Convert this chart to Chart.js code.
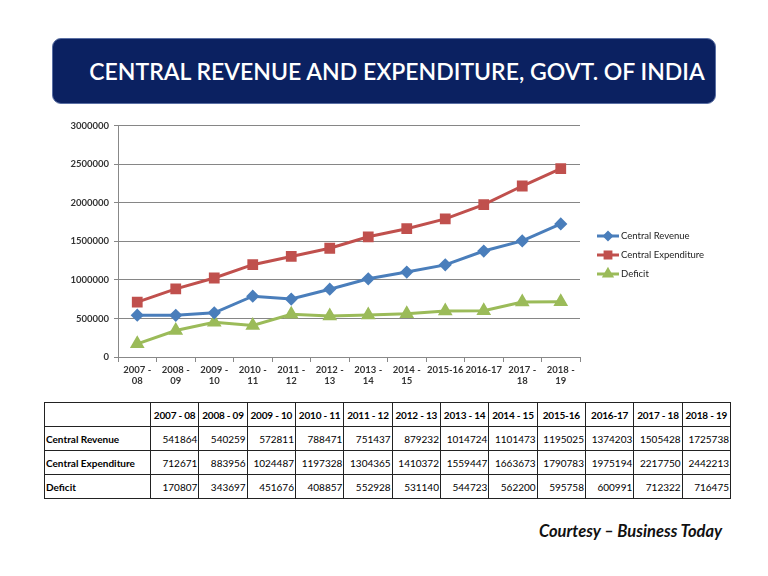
<!DOCTYPE html>
<html>
<head>
<meta charset="utf-8">
<script src="https://cdn.jsdelivr.net/npm/chart.js@4.4.1/dist/chart.umd.min.js"></script>
<style>
  body { margin: 0; width: 768px; height: 576px; background: #fff; position: relative; overflow: hidden; font-family: Lato, "Open Sans", sans-serif; }
  #title { position: absolute; left: 52px; top: 38px; width: 664px; height: 66px; background: #0b2161; border-radius: 9px; border: 1px solid #5a6fa3; box-sizing: border-box; padding-left: 26px; color: #fff; font-size: 23px; line-height: 64px; text-align: center; font-weight: 600; }
  #wrap { position: absolute; left: 60px; top: 115px; width: 680px; height: 280px; }
  table { position: absolute; left: 44px; top: 402px; width: 687px; border-collapse: collapse; table-layout: fixed; font-size: 10px; color: #000; }
  td, th { border: 1px solid #222; height: 23px; padding: 0 1px; overflow: hidden; white-space: nowrap; }
  th { font-weight: bold; text-align: center; font-size: 10px; letter-spacing: -0.2px; }
  td { text-align: right; }
  .lab { text-align: left; font-weight: bold; padding-left: 1px; width: 103px; }
  #courtesy { position: absolute; left: 539px; top: 521px; font-size: 16.5px; font-weight: bold; font-style: italic; color: #111; }
</style>
</head>
<body>
<div id="title">CENTRAL REVENUE AND EXPENDITURE, GOVT. OF INDIA</div>
<div id="wrap"><canvas id="myChart" width="680" height="280"></canvas></div>
<table id="tbl"></table>
<div id="courtesy">Courtesy – Business Today</div>
<script>
const years = ['2007 - 08', '2008 - 09', '2009 - 10', '2010 - 11', '2011 - 12', '2012 - 13',
  '2013 - 14', '2014 - 15', '2015-16', '2016-17', '2017 - 18', '2018 - 19'];
const revenue = [541864, 540259, 572811, 788471, 751437, 879232, 1014724, 1101473, 1195025, 1374203, 1505428, 1725738];
const expenditure = [712671, 883956, 1024487, 1197328, 1304365, 1410372, 1559447, 1663673, 1790783, 1975194, 2217750, 2442213];
const deficit = [170807, 343697, 451676, 408857, 552928, 531140, 544723, 562200, 595758, 600991, 712322, 716475];
const yTicks = [0, 500000, 1000000, 1500000, 2000000, 2500000, 3000000];

let revenueData = {
  label: 'Central Revenue',
  data: revenue,
  borderColor: '#4a7ebb',
  backgroundColor: '#4a7ebb',
  borderWidth: 3,
  pointStyle: 'rectRot',
  pointRadius: 4.5,
};
let expenditureData = {
  label: 'Central Expenditure',
  data: expenditure,
  borderColor: '#c0504d',
  backgroundColor: '#c0504d',
  borderWidth: 3,
  pointStyle: 'rect',
  pointRadius: 5.5,
};
let deficitData = {
  label: 'Deficit',
  data: deficit,
  borderColor: '#9bbb59',
  backgroundColor: '#9bbb59',
  borderWidth: 3,
  pointStyle: 'triangle',
  pointRadius: 5.5,
};

// legend with line + marker, like the office chart
const sideLegend = {
  id: 'sideLegend',
  afterDraw(chart) {
    const ctx = chart.ctx;
    const x0 = 537, y0 = 121;
    ctx.save();
    ctx.font = '9.5px Lato, sans-serif';
    ctx.textBaseline = 'middle';
    chart.data.datasets.forEach((ds, i) => {
      const y = y0 + i * 19;
      ctx.strokeStyle = ds.borderColor;
      ctx.lineWidth = 3;
      ctx.beginPath();
      ctx.moveTo(x0, y);
      ctx.lineTo(x0 + 22, y);
      ctx.stroke();
      Chart.helpers.drawPoint(ctx, {pointStyle: ds.pointStyle, radius: ds.pointRadius * 0.75, borderWidth: 1}, x0 + 11, y);
      ctx.fillStyle = ds.backgroundColor;
      ctx.fill();
      ctx.fillStyle = '#222';
      ctx.fillText(ds.label, x0 + 24, y);
    });
    ctx.restore();
  }
};

const tickFont = { family: 'Lato, sans-serif', size: 9.5, weight: 'bold' };

let myChart = new Chart(document.getElementById('myChart'), {
  type: 'line',
  data: {
    labels: years,
    datasets: [revenueData, expenditureData, deficitData]
  },
  options: {
    responsive: false,
    animation: false,
    layout: { padding: { top: 7, right: 160, left: 0, bottom: 0 } },
    plugins: { legend: { display: false }, tooltip: { enabled: false } },
    elements: { line: { tension: 0 } },
    scales: {
      x: {
        offset: true,
        grid: { offset: true, drawOnChartArea: false, drawTicks: true, tickLength: 5, color: '#888' },
        border: { color: '#888', width: 1 },
        ticks: {
          color: '#333', font: tickFont, maxRotation: 0, autoSkip: false, padding: 2,
          callback: function(v, i) {
            const s = years[i];
            const parts = s.split(' - ');
            return parts.length > 1 ? [parts[0] + ' -', parts[1]] : s;
          }
        },
        afterFit: function(scale) { scale.height = 38; }
      },
      y: {
        min: 0, max: 3000000,
        afterBuildTicks: function(scale) { scale.ticks = yTicks.map(v => ({ value: v })); },
        grid: { color: '#868686', tickLength: 4, drawTicks: true },
        border: { color: '#888', width: 1 },
        ticks: { color: '#333', font: tickFont, padding: 5, callback: v => String(v) },
        afterFit: function(scale) { scale.width = 58; }
      }
    }
  },
  plugins: [sideLegend]
});

// data table below the chart
const tbl = document.getElementById('tbl');
let html = '<colgroup><col style="width:106px">' + years.map(() => '<col>').join('') + '</colgroup>';
html += '<tr><th class="lab"></th>' + years.map(y => '<th>' + y + '</th>').join('') + '</tr>';
[['Central Revenue', revenue], ['Central Expenditure', expenditure], ['Deficit', deficit]].forEach(r => {
  html += '<tr><td class="lab">' + r[0] + '</td>' + r[1].map(v => '<td>' + v + '</td>').join('') + '</tr>';
});
tbl.innerHTML = html;
</script>
</body>
</html>
